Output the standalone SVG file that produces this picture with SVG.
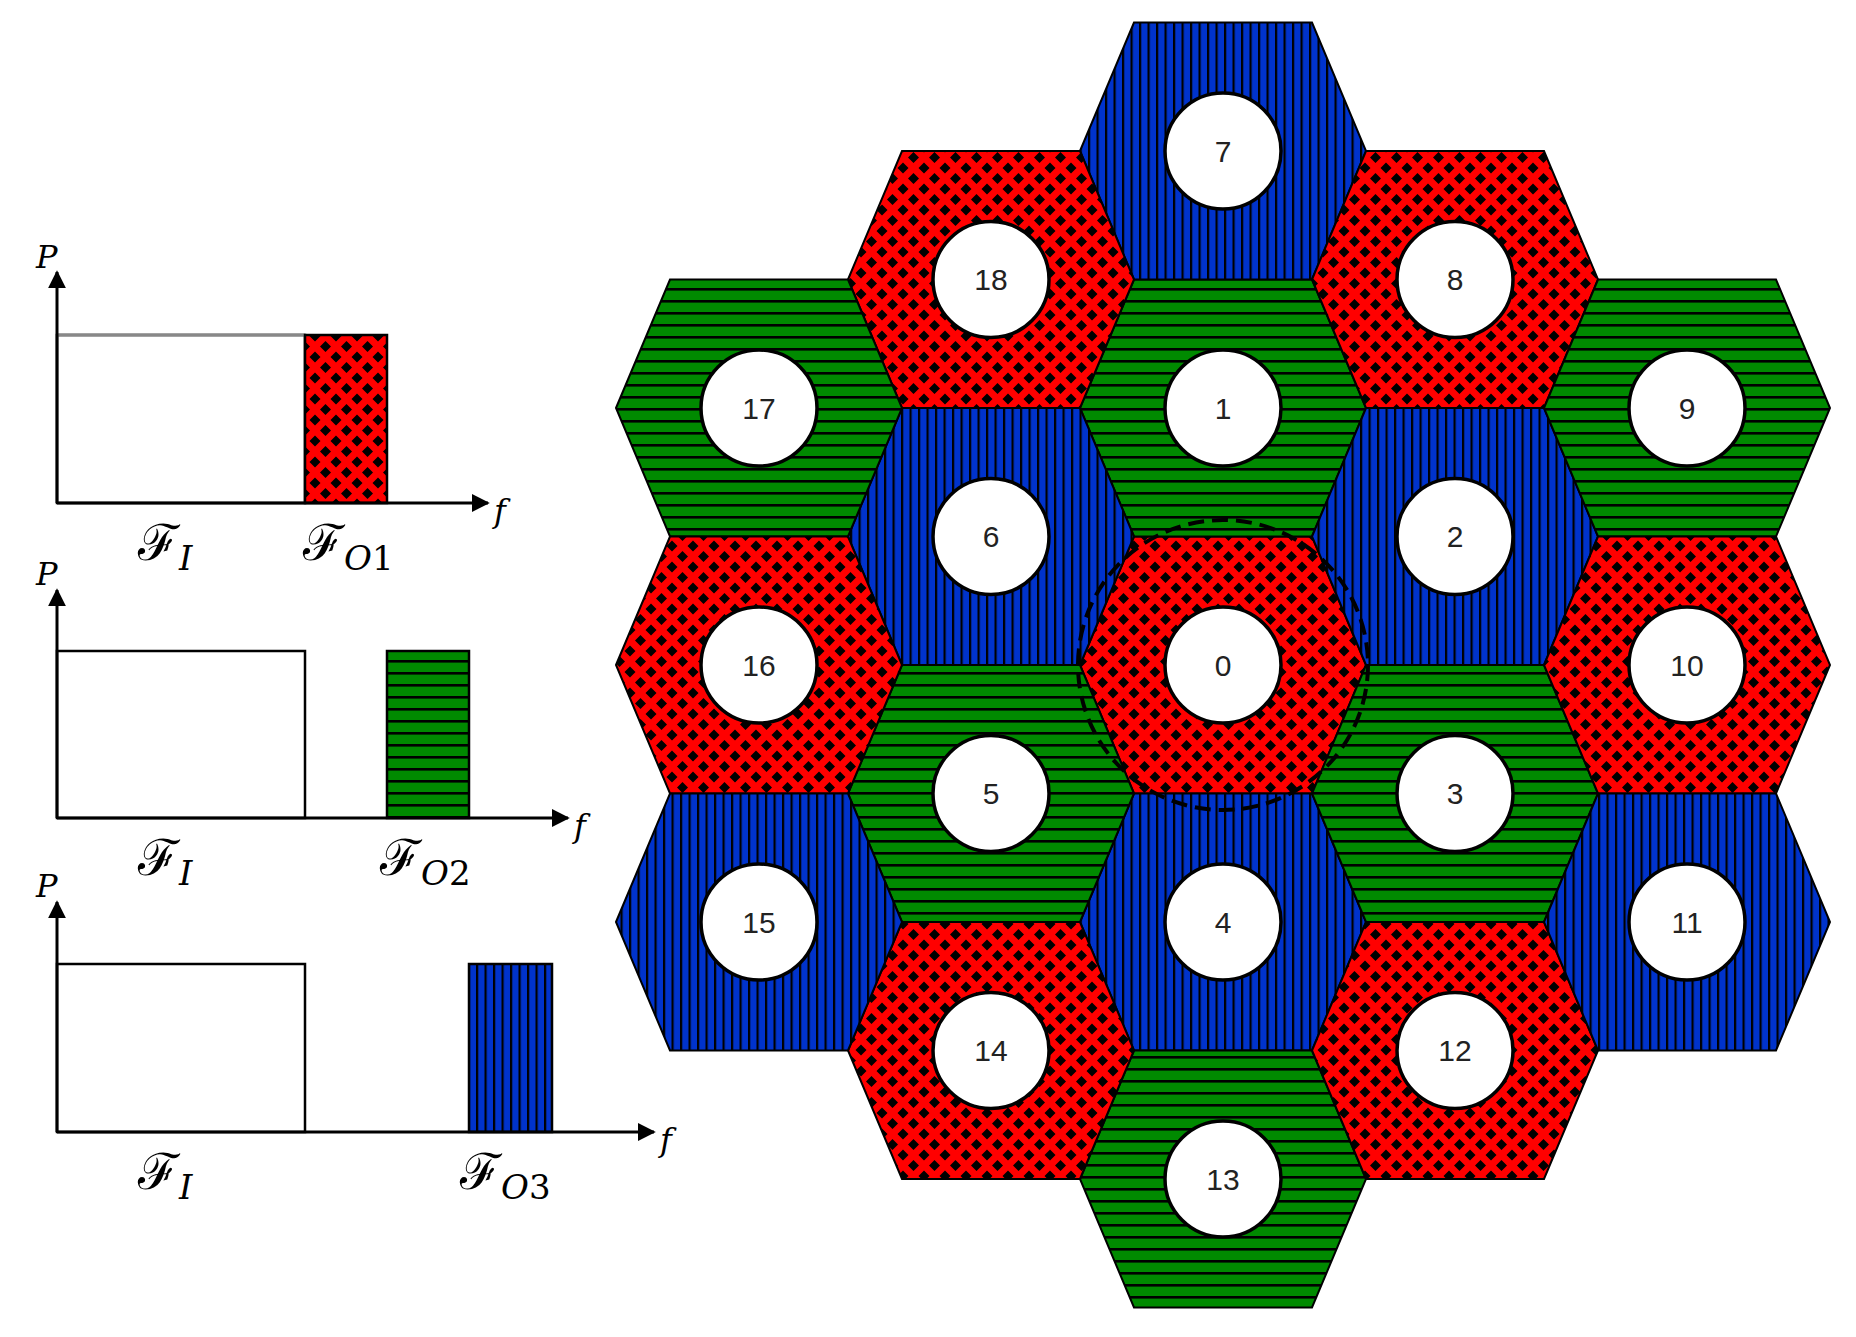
<svg xmlns="http://www.w3.org/2000/svg" width="1856" height="1337" viewBox="0 0 1856 1337">
<defs>
<pattern id="pr" patternUnits="userSpaceOnUse" width="21" height="21">
<rect width="21" height="21" fill="#ff0000"/>
<path d="M10.5 5 L16 10.5 L10.5 16 L5 10.5Z M0 -5.5 L5.5 0 L0 5.5 L-5.5 0Z M21 -5.5 L26.5 0 L21 5.5 L15.5 0Z M0 15.5 L5.5 21 L0 26.5 L-5.5 21Z M21 15.5 L26.5 21 L21 26.5 L15.5 21Z" fill="#000"/>
</pattern>
<pattern id="pg" patternUnits="userSpaceOnUse" width="12" height="12">
<rect width="12" height="12" fill="#008a00"/>
<rect y="0" width="12" height="2.6" fill="#000"/>
</pattern>
<pattern id="pb" patternUnits="userSpaceOnUse" width="8.5" height="8">
<rect width="8.5" height="8" fill="#0033cc"/>
<rect x="0" width="2.2" height="8" fill="#000"/>
</pattern>
<marker id="ar" viewBox="0 0 10 10" refX="9" refY="5" markerWidth="6" markerHeight="6" orient="auto" markerUnits="strokeWidth">
<path d="M0 0 L10 5 L0 10Z" fill="#000"/>
</marker>
</defs>
<style>
.hex{stroke:#000;stroke-width:2}
.c{fill:#fff;stroke:#000;stroke-width:3.5}
.n{font-family:"Liberation Sans",Arial,sans-serif;font-size:30px;fill:#222;text-anchor:middle;dominant-baseline:central}
.ax{stroke:#000;stroke-width:3;fill:none}
.bx{stroke:#000;stroke-width:2.5;fill:#fff}
.m{font-family:"DejaVu Serif","Liberation Serif",serif;fill:#000}
</style>
<rect width="1856" height="1337" fill="#fff"/>

<g id="chart1">
<rect class="bx" x="57" y="335" width="248" height="168" stroke="none"/>
<line x1="57" y1="335" x2="305" y2="335" stroke="#888" stroke-width="3"/>
<rect x="305" y="335" width="82" height="168" fill="url(#pr)" stroke="#000" stroke-width="2.5"/>
<line class="ax" x1="57" y1="503" x2="57" y2="272" marker-end="url(#ar)"/>
<line class="ax" x1="57" y1="503" x2="488" y2="503" marker-end="url(#ar)"/>
<text class="m" x="36" y="268" font-size="32" font-style="italic">P</text>
<text class="m" x="494" y="522" font-size="32" font-style="italic">f</text>
<text class="m" x="138" y="560" font-size="50">ℱ<tspan font-size="34" font-style="italic" dy="10">I</tspan></text>
<text class="m" x="303" y="560" font-size="50">ℱ<tspan font-size="34" dy="10"><tspan font-style="italic">O</tspan>1</tspan></text>
</g>

<g id="chart2">
<rect class="bx" x="57" y="651" width="248" height="167"/>
<rect x="387" y="651" width="82" height="167" fill="url(#pg)" stroke="#000" stroke-width="2.5"/>
<line class="ax" x1="57" y1="818" x2="57" y2="590" marker-end="url(#ar)"/>
<line class="ax" x1="57" y1="818" x2="568" y2="818" marker-end="url(#ar)"/>
<text class="m" x="36" y="585" font-size="32" font-style="italic">P</text>
<text class="m" x="574" y="837" font-size="32" font-style="italic">f</text>
<text class="m" x="138" y="875" font-size="50">ℱ<tspan font-size="34" font-style="italic" dy="10">I</tspan></text>
<text class="m" x="380" y="875" font-size="50">ℱ<tspan font-size="34" dy="10"><tspan font-style="italic">O</tspan>2</tspan></text>
</g>

<g id="chart3">
<rect class="bx" x="57" y="964" width="248" height="168"/>
<rect x="469" y="964" width="83" height="168" fill="url(#pb)" stroke="#000" stroke-width="2.5"/>
<line class="ax" x1="57" y1="1132" x2="57" y2="902" marker-end="url(#ar)"/>
<line class="ax" x1="57" y1="1132" x2="654" y2="1132" marker-end="url(#ar)"/>
<text class="m" x="36" y="897" font-size="32" font-style="italic">P</text>
<text class="m" x="660" y="1151" font-size="32" font-style="italic">f</text>
<text class="m" x="138" y="1189" font-size="50">ℱ<tspan font-size="34" font-style="italic" dy="10">I</tspan></text>
<text class="m" x="460" y="1189" font-size="50">ℱ<tspan font-size="34" dy="10"><tspan font-style="italic">O</tspan>3</tspan></text>
</g>

<g id="hexes">
<g id="h0"><polygon class="hex" fill="url(#pr)" points="1080,665 1134,536.5 1312,536.5 1366,665 1312,793.5 1134,793.5"/></g>
<g id="h1"><polygon class="hex" fill="url(#pg)" points="1080,408 1134,279.5 1312,279.5 1366,408 1312,536.5 1134,536.5"/></g>
<g id="h4"><polygon class="hex" fill="url(#pb)" points="1080,922 1134,793.5 1312,793.5 1366,922 1312,1050.5 1134,1050.5"/></g>
<g id="h7"><polygon class="hex" fill="url(#pb)" points="1080,151 1134,22.5 1312,22.5 1366,151 1312,279.5 1134,279.5"/></g>
<g id="h13"><polygon class="hex" fill="url(#pg)" points="1080,1179 1134,1050.5 1312,1050.5 1366,1179 1312,1307.5 1134,1307.5"/></g>
<g id="h18"><polygon class="hex" fill="url(#pr)" points="848,279.5 902,151 1080,151 1134,279.5 1080,408 902,408"/></g>
<g id="h6"><polygon class="hex" fill="url(#pb)" points="848,536.5 902,408 1080,408 1134,536.5 1080,665 902,665"/></g>
<g id="h5"><polygon class="hex" fill="url(#pg)" points="848,793.5 902,665 1080,665 1134,793.5 1080,922 902,922"/></g>
<g id="h14"><polygon class="hex" fill="url(#pr)" points="848,1050.5 902,922 1080,922 1134,1050.5 1080,1179 902,1179"/></g>
<g id="h8"><polygon class="hex" fill="url(#pr)" points="1312,279.5 1366,151 1544,151 1598,279.5 1544,408 1366,408"/></g>
<g id="h2"><polygon class="hex" fill="url(#pb)" points="1312,536.5 1366,408 1544,408 1598,536.5 1544,665 1366,665"/></g>
<g id="h3"><polygon class="hex" fill="url(#pg)" points="1312,793.5 1366,665 1544,665 1598,793.5 1544,922 1366,922"/></g>
<g id="h12"><polygon class="hex" fill="url(#pr)" points="1312,1050.5 1366,922 1544,922 1598,1050.5 1544,1179 1366,1179"/></g>
<g id="h17"><polygon class="hex" fill="url(#pg)" points="616,408 670,279.5 848,279.5 902,408 848,536.5 670,536.5"/></g>
<g id="h16"><polygon class="hex" fill="url(#pr)" points="616,665 670,536.5 848,536.5 902,665 848,793.5 670,793.5"/></g>
<g id="h15"><polygon class="hex" fill="url(#pb)" points="616,922 670,793.5 848,793.5 902,922 848,1050.5 670,1050.5"/></g>
<g id="h9"><polygon class="hex" fill="url(#pg)" points="1544,408 1598,279.5 1776,279.5 1830,408 1776,536.5 1598,536.5"/></g>
<g id="h10"><polygon class="hex" fill="url(#pr)" points="1544,665 1598,536.5 1776,536.5 1830,665 1776,793.5 1598,793.5"/></g>
<g id="h11"><polygon class="hex" fill="url(#pb)" points="1544,922 1598,793.5 1776,793.5 1830,922 1776,1050.5 1598,1050.5"/></g>
</g>

<g id="connectors">
<circle cx="1223" cy="665" r="145" fill="none" stroke="#000" stroke-width="4" stroke-dasharray="16 8"/>
</g>

<g id="labels">
<g id="n0"><circle class="c" cx="1223" cy="665" r="58"/><text class="n" x="1223" y="665">0</text></g>
<g id="n1"><circle class="c" cx="1223" cy="408" r="58"/><text class="n" x="1223" y="408">1</text></g>
<g id="n4"><circle class="c" cx="1223" cy="922" r="58"/><text class="n" x="1223" y="922">4</text></g>
<g id="n7"><circle class="c" cx="1223" cy="151" r="58"/><text class="n" x="1223" y="151">7</text></g>
<g id="n13"><circle class="c" cx="1223" cy="1179" r="58"/><text class="n" x="1223" y="1179">13</text></g>
<g id="n18"><circle class="c" cx="991" cy="279.5" r="58"/><text class="n" x="991" y="279.5">18</text></g>
<g id="n6"><circle class="c" cx="991" cy="536.5" r="58"/><text class="n" x="991" y="536.5">6</text></g>
<g id="n5"><circle class="c" cx="991" cy="793.5" r="58"/><text class="n" x="991" y="793.5">5</text></g>
<g id="n14"><circle class="c" cx="991" cy="1050.5" r="58"/><text class="n" x="991" y="1050.5">14</text></g>
<g id="n8"><circle class="c" cx="1455" cy="279.5" r="58"/><text class="n" x="1455" y="279.5">8</text></g>
<g id="n2"><circle class="c" cx="1455" cy="536.5" r="58"/><text class="n" x="1455" y="536.5">2</text></g>
<g id="n3"><circle class="c" cx="1455" cy="793.5" r="58"/><text class="n" x="1455" y="793.5">3</text></g>
<g id="n12"><circle class="c" cx="1455" cy="1050.5" r="58"/><text class="n" x="1455" y="1050.5">12</text></g>
<g id="n17"><circle class="c" cx="759" cy="408" r="58"/><text class="n" x="759" y="408">17</text></g>
<g id="n16"><circle class="c" cx="759" cy="665" r="58"/><text class="n" x="759" y="665">16</text></g>
<g id="n15"><circle class="c" cx="759" cy="922" r="58"/><text class="n" x="759" y="922">15</text></g>
<g id="n9"><circle class="c" cx="1687" cy="408" r="58"/><text class="n" x="1687" y="408">9</text></g>
<g id="n10"><circle class="c" cx="1687" cy="665" r="58"/><text class="n" x="1687" y="665">10</text></g>
<g id="n11"><circle class="c" cx="1687" cy="922" r="58"/><text class="n" x="1687" y="922">11</text></g>
</g>
</svg>
